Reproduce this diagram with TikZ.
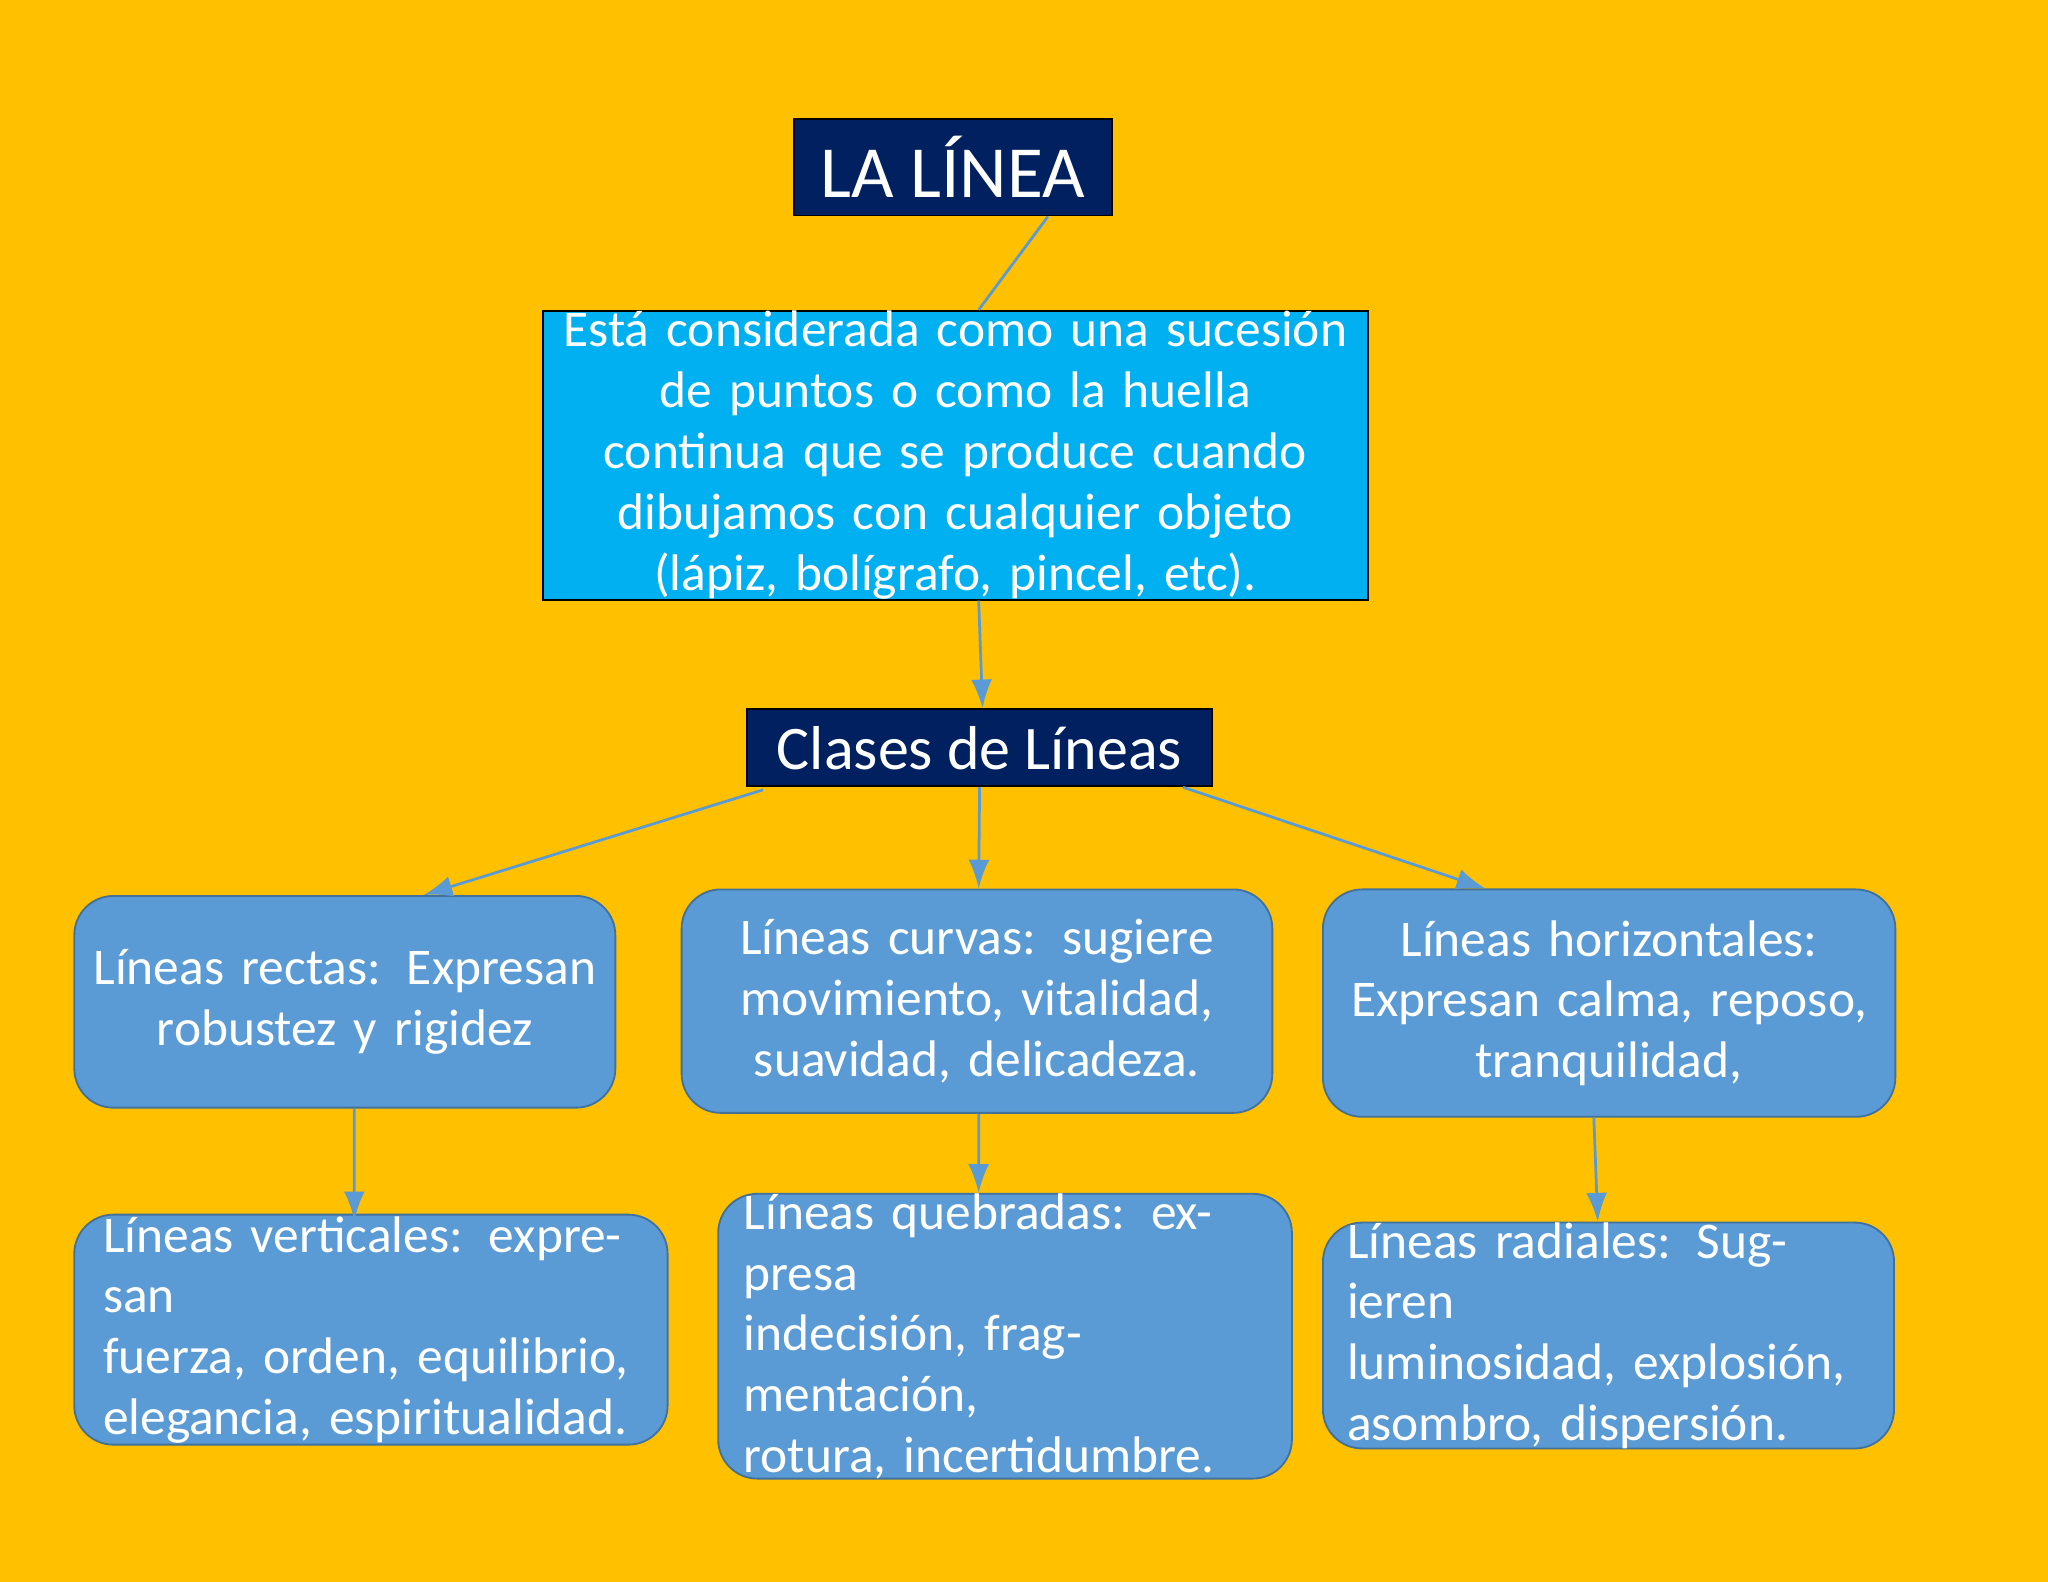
\documentclass[tikz,border=0pt]{standalone}
\usepackage{fontspec}
\setmainfont{Carlito}
\begin{document}
\begin{tikzpicture}[x=0.01cm,y=-0.01cm,
  navy/.style={draw=black,fill=navyc,text=white,minimum width=#1,inner sep=0pt},
  soft/.style={draw=edgec,fill=boxc,text=white,rounded corners=0.3cm,inner sep=0pt,font=\fontsize{11.2}{13.2}\selectfont},
  conn/.style={draw=boxc,line width=0.6pt},
  arr/.style={conn,-{Latex[length=2.2mm,width=1.6mm]}}]
\definecolor{bg}{HTML}{FFC000}
\definecolor{navyc}{HTML}{002060}
\definecolor{cyanc}{HTML}{00B0F0}
\definecolor{boxc}{HTML}{5B9BD5}
\definecolor{edgec}{HTML}{41719C}
\usetikzlibrary{arrows.meta}
\fill[bg] (0,0) rectangle (1568,1211);
\useasboundingbox (0,0) rectangle (1568,1211);
\node[navy=2.43cm,minimum height=0.74cm,font=\fontsize{16}{19}\selectfont] (t) at (729.5,128) {LA LÍNEA};
\node[draw=black,fill=cyanc,text=white,minimum width=6.31cm,minimum height=1.93cm,text width=6.1cm,align=center,inner sep=0pt,font=\fontsize{11.2}{13.3}\selectfont] (d) at (731.5,348.5)
 {Está considerada como una sucesión de puntos o como la huella continua que se produce cuando dibujamos con cualquier objeto (lápiz, bolígrafo, pincel, etc).};
\node[navy=3.56cm,minimum height=0.59cm,font=\fontsize{13.5}{16}\selectfont] (c) at (750,572.5) {Clases de Líneas};
\node[soft,minimum width=4.14cm,minimum height=1.62cm,text width=3.9cm,align=center] (r) at (264,767) {Líneas rectas: Expresan\\robustez y rigidez\\[0.5em]};
\node[soft,minimum width=4.52cm,minimum height=1.71cm,text width=4.3cm,align=center] (cu) at (748,766.5) {Líneas curvas: sugiere\\movimiento, vitalidad,\\suavidad, delicadeza.};
\node[soft,minimum width=4.38cm,minimum height=1.74cm,text width=4.2cm,align=center] (h) at (1232,768) {Líneas horizontales:\\Expresan calma, reposo,\\tranquilidad,};
\node[soft,minimum width=4.54cm,minimum height=1.76cm,text width=4.1cm,align=left] (v) at (284,1018) {Líneas verticales: expresan\\fuerza, orden, equilibrio,\\elegancia, espiritualidad.};
\node[soft,minimum width=4.39cm,minimum height=1.68cm,text width=4.0cm,align=left] (q) at (769.5,1023) {Líneas quebradas: expresa\\indecisión, fragmentación,\\rotura, incertidumbre.};
\node[soft,minimum width=4.37cm,minimum height=1.67cm,text width=4.0cm,align=left] (ra) at (1231.5,1022.5) {Líneas radiales: Sugieren\\luminosidad, explosión,\\asombro, dispersión.};
\draw[conn] ([xshift=1.95cm]t.south west) -- ([xshift=3.34cm]d.north west);
\draw[arr] ([xshift=3.34cm]d.south west) -- ([xshift=1.81cm]c.north west);
\draw[arr] ([xshift=0.13cm,yshift=-0.02cm]c.south west) -- ([xshift=2.68cm]r.north west);
\draw[arr] (c.south) -- ([xshift=2.28cm]cu.north west);
\draw[arr] ([xshift=-0.23cm]c.south east) -- ([xshift=1.25cm]h.north west);
\draw[arr] ([xshift=2.15cm]r.south west) -- ([xshift=2.15cm,yshift=-0.05cm]v.north west);
\draw[arr] ([xshift=2.28cm]cu.south west) -- ([xshift=2.0cm]q.north west);
\draw[arr] ([xshift=2.08cm]h.south west) -- ([xshift=2.11cm]ra.north west);
\end{tikzpicture}
\end{document}
